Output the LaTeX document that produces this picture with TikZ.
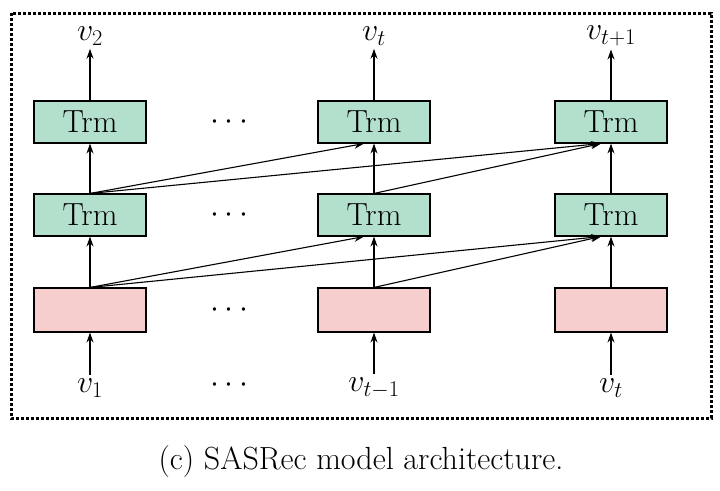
\RequirePackage{fix-cm}
\documentclass[tikz,border=0pt]{standalone}
\usepackage{amsmath}
\usetikzlibrary{arrows.meta, positioning}
\definecolor{trmgreen}{RGB}{178,224,204}
\definecolor{embpink}{RGB}{246,206,206}
\begin{document}
\begin{tikzpicture}
[x=1pt, y=-1pt,
font=\fontsize{32}{38}\selectfont,
TrmNode/.style={rectangle, draw=black, line width=1.1pt, minimum width=112pt, minimum height=42pt, fill=trmgreen, inner sep=0pt},
EmbNode/.style={rectangle, draw=black, line width=1.1pt, minimum width=112pt, minimum height=44pt, fill=embpink},
>={Stealth[length=10pt, width=7pt]}
]
\useasboundingbox (0,0) rectangle (720,490);
\draw[line width=3pt, dotted] (11,13) rectangle (711,418);

\node[TrmNode] (TopA) at (90,122) {Trm};
\node[TrmNode] (TopB) at (374,122) {Trm};
\node[TrmNode] (TopC) at (611,122) {Trm};
\node[TrmNode] (MidA) at (90,215) {Trm};
\node[TrmNode] (MidB) at (374,215) {Trm};
\node[TrmNode] (MidC) at (611,215) {Trm};
\node[EmbNode] (EmbA) at (90,310) {};
\node[EmbNode] (EmbB) at (374,310) {};
\node[EmbNode] (EmbC) at (611,310) {};

\node (OutA) at (90,36) {$v_2$};
\node (OutB) at (374,36) {$v_t$};
\node (OutC) at (611,36) {$v_{t+1}$};
\node (InA) at (90,388) {$v_1$};
\node (InB) at (374,388) {$v_{t-1}$};
\node (InC) at (611,388) {$v_t$};

\node (DotsTop) at (232,122) {$\cdots$};
\node (DotsMid) at (232,215) {$\cdots$};
\node (DotsEmb) at (232,310) {$\cdots$};
\node (DotsIn) at (232,385) {$\cdots$};

\node (Caption) at (361,462) {(c) SASRec model architecture.};

\foreach \c in {A,B,C}{
  \draw[->, line width=1.1pt] (In\c) -- (Emb\c);
  \draw[->, line width=1.1pt] (Emb\c) -- (Mid\c);
  \draw[->, line width=1.1pt] (Mid\c) -- (Top\c);
  \draw[->, line width=1.1pt] (Top\c) -- (Out\c);
}
\draw[->, line width=1.1pt] (MidA.north) -- ([xshift=-10pt]TopB.south);
\draw[->, line width=1.1pt] (MidA.north) -- ([xshift=-10pt]TopC.south);
\draw[->, line width=1.1pt] (MidB.north) -- ([xshift=-10pt]TopC.south);
\draw[->, line width=1.1pt] (EmbA.north) -- ([xshift=-10pt]MidB.south);
\draw[->, line width=1.1pt] (EmbA.north) -- ([xshift=-10pt]MidC.south);
\draw[->, line width=1.1pt] (EmbB.north) -- ([xshift=-10pt]MidC.south);
\end{tikzpicture}
\end{document}
